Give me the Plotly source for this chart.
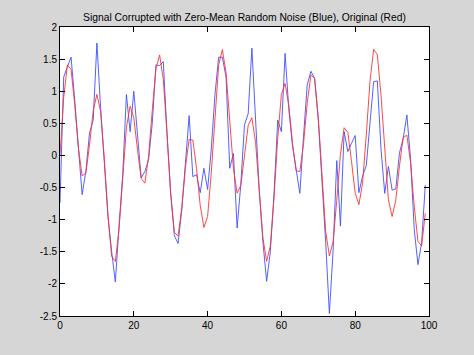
import plotly.graph_objects as go

time_ms = list(range(100))

original = [
    0.0000, 0.9008, 1.4095, 1.3368, 0.7910, 0.1122, -0.3166, -0.2780, 0.1628, 0.6981,
    0.9511, 0.6885, -0.0434, -0.9344, -1.5705, -1.6511, -1.1475, -0.3176, 0.4328, 0.7660,
    0.5878, 0.0910, -0.3590, -0.4317, -0.0188, 0.7000, 1.3502, 1.5643, 1.1820, 0.3416,
    -0.5878, -1.1986, -1.2558, -0.8150, -0.1839, 0.2511, 0.2391, -0.1982, -0.7796, -1.1211,
    -0.9511, -0.2655, 0.6602, 1.4106, 1.6480, 1.2878, 0.5404, -0.2042, -0.5865, -0.4682,
    0.0000, 0.4682, 0.5865, 0.2042, -0.5404, -1.2878, -1.6480, -1.4106, -0.6602, 0.2655,
    0.9511, 1.1211, 0.7796, 0.1982, -0.2391, -0.2511, 0.1839, 0.8150, 1.2558, 1.1986,
    0.5878, -0.3416, -1.1820, -1.5643, -1.3502, -0.7000, 0.0188, 0.4317, 0.3590, -0.0910,
    -0.5878, -0.7660, -0.4328, 0.3176, 1.1475, 1.6511, 1.5705, 0.9344, 0.0434, -0.6885,
    -0.9511, -0.6981, -0.1628, 0.2780, 0.3166, -0.1122, -0.7910, -1.3368, -1.4095, -0.9008,
]

noisy = [
    -0.74, 1.22, 1.38, 1.53, 0.85, 0.10, -0.61, -0.25, 0.35, 0.55,
    1.75, 0.75, -0.05, -0.95, -1.50, -1.97, -1.10, -0.30, 0.95, 0.37,
    1.00, 0.30, -0.35, -0.25, -0.07, 0.50, 1.41, 1.40, 1.46, 0.34,
    -0.60, -1.25, -1.37, -0.85, -0.18, 0.62, -0.33, -0.30, -0.58, -0.20,
    -0.53, 0.10, 0.95, 1.53, 1.53, 1.22, -0.20, 0.03, -1.13, -0.45,
    0.48, 0.65, 1.67, 0.45, -0.55, -1.35, -1.96, -1.50, -0.60, 0.55,
    0.37, 1.59, 0.73, 0.15, -0.20, -0.59, 0.30, 1.10, 1.31, 1.20,
    0.55, -0.35, -1.35, -2.46, -1.50, -0.08, -1.10, 0.37, 0.06, 0.19,
    0.31, -0.58, -0.32, -0.16, 0.50, 1.15, 1.16, 0.10, -0.59, -0.17,
    -0.54, -0.52, 0.04, 0.26, 0.63, -0.05, -1.15, -1.70, -1.36, -0.46,
]

x_ticks = [0, 20, 40, 60, 80, 100]
x_ticktext = ["0", "20", "40", "60", "80", "100"]
y_ticks = [-2.5, -2, -1.5, -1, -0.5, 0, 0.5, 1, 1.5, 2]
y_ticktext = ["-2.5", "-2", "-1.5", "-1", "-0.5", "0", "0.5", "1", "1.5", "2"]

title_text = "Signal Corrupted with Zero-Mean Random Noise (Blue), Original (Red)"

fig = go.Figure()
fig.add_trace(go.Scatter(x=time_ms, y=noisy, mode="lines",
                         line=dict(color="#3f4fff", width=0.9), showlegend=False))
fig.add_trace(go.Scatter(x=time_ms, y=original, mode="lines",
                         line=dict(color="#ff3333", width=0.9), showlegend=False))

axis_font = dict(family="Liberation Sans, Arial, sans-serif", size=10, color="black")

fig.update_layout(
    width=474, height=355,
    paper_bgcolor="#d6d6d6", plot_bgcolor="white",
    margin=dict(l=60, r=45, t=27, b=39),
    title=dict(text=title_text, x=0.5, xref="paper", xanchor="center",
               y=1, yref="paper", yanchor="bottom", pad=dict(b=6),
               font=dict(family="Liberation Sans, Arial, sans-serif", size=10.3, color="black")),
    xaxis=dict(range=[0, 100], tickvals=x_ticks, ticktext=x_ticktext,
               ticks="inside", ticklen=5, tickcolor="black", showline=True,
               linecolor="black", linewidth=1, mirror="ticks", showgrid=False,
               zeroline=False, tickfont=axis_font),
    yaxis=dict(range=[-2.5, 2], tickvals=y_ticks, ticktext=y_ticktext,
               ticks="inside", ticklen=5, tickcolor="black", showline=True,
               linecolor="black", linewidth=1, mirror="ticks", showgrid=False,
               zeroline=False, tickfont=axis_font),
)

fig.write_html(
    "out.html",
    config={"displayModeBar": False},
    post_script="document.body.style.margin='0';document.body.style.background='#d6d6d6';",
)
